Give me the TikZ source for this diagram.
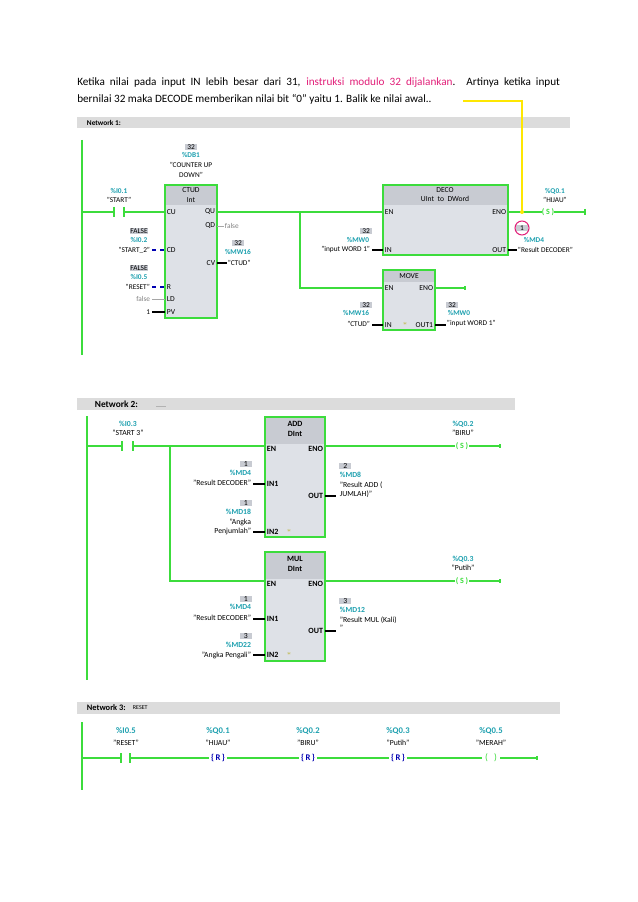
\documentclass[tikz,border=0pt]{standalone}
\usepackage{fontspec}
\setmainfont{Carlito}
\begin{document}
\definecolor{wg}{RGB}{60,220,60}
\definecolor{tl}{RGB}{30,160,175}
\definecolor{bx}{RGB}{222,225,231}
\definecolor{hd}{RGB}{200,203,210}
\definecolor{bar}{RGB}{220,220,220}
\definecolor{pk}{RGB}{225,30,120}
\begin{tikzpicture}[x=0.75pt,y=-0.75pt,
  wire/.style={draw=wg,line width=1.3pt},
  blk/.style={draw=black,line width=0.9pt},
  lb/.style={inner sep=0.5pt,font=\fontsize{5.5}{6}\selectfont},
  tlb/.style={lb,text=tl,font=\fontsize{5.5}{6}\selectfont\bfseries},
  gb/.style={lb,fill=hd,minimum width=9pt,font=\fontsize{5.5}{6}\selectfont},
  pin/.style={lb,font=\fontsize{5.7}{6}\selectfont},
  coil/.style={inner sep=0.5pt,text=wg,font=\fontsize{6}{6}\selectfont\bfseries},
  rcoil/.style={inner sep=0.5pt,text=blue!70!black,font=\fontsize{6.5}{6}\selectfont\bfseries},
  hdr/.style={fill=bar,draw=none}]
\useasboundingbox (0,0) rectangle (638,902);
% text
\node[anchor=north west,inner sep=0,text width=362pt,align=justify,font=\fontsize{8.4}{12.8}\selectfont] (txt) at (77,77) {Ketika nilai pada input IN lebih besar dari 31, \textcolor{pk}{instruksi modulo 32 dijalankan}. Artinya ketika input\linebreak bernilai 32 maka DECODE memberikan nilai bit “0” yaitu 1. Balik ke nilai awal..};
% ===== Network 1
\fill[bar] (77,117) rectangle (570,128);
\node[anchor=west,lb,font=\fontsize{5.5}{6}\selectfont\bfseries] (n1) at (86,122.5) {Network 1:};
\draw[wire] (82,140) -- (82,355);
% contact
\coordinate (c1a) at (114,212); \coordinate (c1b) at (124,212);
\draw[wire] (82,212) -- (c1a); \draw[wire] (c1b) -- (165,212);
\draw[wg,line width=1.3pt] (114,207) -- (114,217) (124,207) -- (124,217);
\node[tlb] (l1) at (119,191) {\%I0.1}; \node[lb] (l2) at (119,200) {"START"};
% CTUD
\fill[bx] (165,185) rectangle (217,318); \fill[hd] (165,185) rectangle (217,205);
\draw[wg,line width=1.3pt] (165,185) rectangle (217,318);
\node[pin] (ct) at (191,190) {CTUD}; \node[pin] (ci) at (191,200) {Int};
\node[gb] (d32) at (191,147) {32}; \node[tlb] at (191,155) {\%DB1};
\node[lb] at (191,165) {"COUNTER UP}; \node[lb] at (191,175) {DOWN"};
\foreach \n/\y in {CU/212,CD/250,R/287,LD/299,PV/312}{\node[pin,anchor=west] at (166,\y) {\n};}
\foreach \n/\y in {QU/212,QD/226,CV/263}{\node[pin,anchor=east] at (216,\y) {\n};}
\draw[gray!70,line width=0.6pt] (217,226) -- (224,226);
\node[lb,anchor=west,text=gray] at (224,226) {false};
\node[gb] at (238,243) {32}; \node[tlb] at (238,252) {\%MW16};
\draw[blk] (217,263) -- (227,263); \node[lb,anchor=west] at (227,263) {"CTUD"};
\node[gb] at (139,231) {FALSE}; \node[tlb] at (139,240) {\%I0.2};
\node[lb,anchor=east] at (151,250) {"START\_2"};
\draw[blue!70!black,dashed,line width=1pt] (152,250) -- (165,250);
\node[gb] at (139,268) {FALSE}; \node[tlb] at (139,277) {\%I0.5};
\node[lb,anchor=east] at (151,287) {"RESET"};
\draw[blue!70!black,dashed,line width=1pt] (152,287) -- (165,287);
\node[lb,anchor=east,text=gray] at (151,299) {false}; \draw[gray!70,line width=0.6pt] (152,299) -- (165,299);
\node[lb,anchor=east] at (151,312) {1}; \draw[blk] (152,312) -- (165,312);
% wires
\draw[wire] (217,212) -- (383,212);
\draw[wire] (300,212) -- (300,288) -- (383,288);
% DECO
\fill[bx] (383,185) rectangle (508,255); \fill[hd] (383,185) rectangle (508,205);
\draw[wg,line width=1.3pt] (383,185) rectangle (508,255);
\node[pin] at (445,190) {DECO}; \node[pin] at (445,199) {UInt\ \ to\ \ DWord};
\node[pin,anchor=west] at (384,212) {EN}; \node[pin,anchor=west] at (384,250) {IN};
\node[pin,anchor=east] at (507,212) {ENO}; \node[pin,anchor=east] at (507,250) {OUT};
\node[gb] at (366,231) {32}; \node[tlb,anchor=east] at (370,240) {\%MW0};
\node[lb,anchor=east] at (371,250) {"input WORD 1"}; \draw[blk] (372,250) -- (383,250);
% output coil
\draw[wire] (508,212) -- (542,212); \draw[wire] (554,212) -- (585,212);
\draw[wg,line width=1.3pt] (585,209) -- (585,215);
\node[coil] (q1) at (548,212) {( S )};
\node[tlb] at (555,191) {\%Q0.1}; \node[lb] at (555,200) {"HIJAU"};
\node[gb] at (522,228) {1};
\draw[pk,line width=0.8pt] (522,228) circle (7);
\node[tlb,anchor=west] at (523,240) {\%MD4};
\draw[blk] (508,250) -- (517,250); \node[lb,anchor=west] at (517,250) {"Result DECODER"};
% yellow pointer
\draw[yellow!90!orange,line width=1pt] (463,101) -- (522,101) -- (522,212);
\fill[yellow!90!orange] (522,212) circle (2);
% MOVE
\fill[bx] (383,270) rectangle (435,330); \fill[hd] (383,270) rectangle (435,282);
\draw[wg,line width=1.3pt] (383,270) rectangle (435,330);
\node[pin] at (409,276) {MOVE};
\node[pin,anchor=west] at (384,288) {EN}; \node[pin,anchor=east] at (434,288) {ENO};
\node[pin,anchor=west] at (384,325) {IN}; \node[pin,anchor=east] at (434,325) {OUT1};
\node[text=yellow!70!black,font=\fontsize{5}{5}\selectfont] at (405,324) {$\ast$};
\draw[wire] (435,288) -- (465,288); \draw[wg,line width=1pt] (465,286) -- (465,290);
\node[gb] at (366,305) {32}; \node[tlb,anchor=east] at (370,313) {\%MW16};
\node[lb,anchor=east] at (371,324) {"CTUD"}; \draw[blk] (372,325) -- (383,325);
\node[gb] at (452,305) {32}; \node[tlb,anchor=west] at (447,313) {\%MW0};
\draw[blk] (435,325) -- (446,325); \node[lb,anchor=west] at (446,324) {"input WORD 1"};
% ===== Network 2
\fill[bar] (77,398) rectangle (515,410);
\node[anchor=west,lb,font=\fontsize{7}{8}\selectfont\bfseries] at (94,404) {Network 2:};
\draw[gray!60,line width=0.4pt] (156,406) -- (166,406);
\draw[wire] (87,416) -- (87,680);
\draw[wire] (87,446) -- (122,446); \draw[wire] (133,446) -- (265,446);
\draw[wg,line width=1.3pt] (122,441) -- (122,451) (133,441) -- (133,451);
\node[tlb,font=\fontsize{5.8}{6}\selectfont\bfseries] at (128,424) {\%I0.3}; \node[lb,font=\fontsize{5.8}{6}\selectfont] at (128,433) {"START 3"};
\draw[wire] (170,446) -- (170,581) -- (265,581);
\foreach \nm/\yt/\yb/\t/\ta/\yen/\yia/\yout/\yib in {ADD/417/537/DInt/ADD/446/484/496/532, MUL/552/661/DInt/MUL/581/619/631/655}{
  \fill[bx] (265,\yt) rectangle (325,\yb); \fill[hd] (265,\yt) rectangle (325,\yt+27);
  \draw[wg,line width=1.3pt] (265,\yt) rectangle (325,\yb);
  \node[pin,font=\fontsize{6}{6}\selectfont\bfseries] at (295,\yt+7) {\ta};
  \node[pin,font=\fontsize{6}{6}\selectfont\bfseries] at (295,\yt+17) {\t};
  \node[pin,font=\fontsize{6}{6}\selectfont\bfseries,anchor=west] at (266,\yen+3) {EN};
  \node[pin,font=\fontsize{6}{6}\selectfont\bfseries,anchor=east] at (324,\yen+3) {ENO};
  \node[pin,font=\fontsize{6}{6}\selectfont\bfseries,anchor=west] at (266,\yia) {IN1};
  \node[pin,font=\fontsize{6}{6}\selectfont\bfseries,anchor=west] at (266,\yib) {IN2};
  \node[text=yellow!70!black,font=\fontsize{5}{5}\selectfont] at (289,\yib-1) {$\ast$};
  \node[pin,font=\fontsize{6}{6}\selectfont\bfseries,anchor=east] at (324,\yout) {OUT};
  \draw[blk] (253,\yia) -- (265,\yia); \draw[blk] (253,\yib) -- (265,\yib);
  \draw[blk] (325,\yout) -- (336,\yout);
}
\tikzset{l2/.style={lb,font=\fontsize{5.8}{6}\selectfont},t2/.style={tlb,font=\fontsize{5.8}{6}\selectfont\bfseries},g2/.style={gb,font=\fontsize{5.8}{6}\selectfont}}
\node[g2,anchor=east] at (252,464) {1}; \node[t2,anchor=east] at (252,473) {\%MD4};
\node[l2,anchor=east] at (252,483) {"Result DECODER"};
\node[g2,anchor=east] at (252,503) {1}; \node[t2,anchor=east] at (252,512) {\%MD18};
\node[l2,anchor=east] at (252,522) {"Angka}; \node[l2,anchor=east] at (252,531) {Penjumlah"};
\node[g2,anchor=west] at (339,466) {2}; \node[t2,anchor=west] at (339,475) {\%MD8};
\node[l2,anchor=west] at (339,485) {"Result ADD (}; \node[l2,anchor=west] at (339,494) {JUMLAH)"};
\node[g2,anchor=east] at (252,599) {1}; \node[t2,anchor=east] at (252,607) {\%MD4};
\node[l2,anchor=east] at (252,618) {"Result DECODER"};
\node[g2,anchor=east] at (252,636) {3}; \node[t2,anchor=east] at (252,645) {\%MD22};
\node[l2,anchor=east] at (252,655) {"Angka Pengali"};
\node[g2,anchor=west] at (339,601) {3}; \node[t2,anchor=west] at (339,610) {\%MD12};
\node[l2,anchor=west] at (339,620) {"Result MUL (Kali)}; \node[l2,anchor=west] at (339,628) {"};
% coils net 2
\foreach \y/\a/\b in {446/\%Q0.2/"BIRU", 581/\%Q0.3/"Putih"}{
  \draw[wire] (325,\y) -- (455,\y); \draw[wire] (469,\y) -- (500,\y);
  \draw[wg,line width=1pt] (500,\y-2) -- (500,\y+2);
  \node[coil] at (462,\y) {( S )};
  \node[t2] at (463,\y-22) {\a}; \node[l2] at (463,\y-13) {\b};
}
% ===== Network 3
\fill[bar] (77,702) rectangle (560,714);
\node[anchor=west,lb,font=\fontsize{6.3}{7}\selectfont\bfseries] at (86,708) {Network 3:};
\node[anchor=west,lb,font=\fontsize{4.5}{5}\selectfont] at (132,708) {RESET};
\draw[wire] (82,722) -- (82,790);
\draw[wire] (82,758) -- (121,758); \draw[wire] (130,758) -- (537,758);
\draw[wg,line width=1.3pt] (121,753) -- (121,763) (130,753) -- (130,763) (537,756) -- (537,760);
\foreach \x in {218,308,398}{\fill[white] (\x-9,752) rectangle (\x+9,764); \node[rcoil] at (\x,758) {\{\,R\,\}};}
\fill[white] (482,752) rectangle (500,764); \node[coil,font=\fontsize{7}{7}\selectfont] at (491,758) {(\ \ \ )};
\tikzset{t3/.style={tlb,font=\fontsize{6.5}{7}\selectfont\bfseries},l3/.style={lb,font=\fontsize{5.8}{6}\selectfont}}
\node[t3] at (126,731) {\%I0.5}; \node[l3] at (126,743) {"RESET"};
\node[t3] at (218,731) {\%Q0.1}; \node[l3] at (218,743) {"HIJAU"};
\node[t3] at (308,731) {\%Q0.2}; \node[l3] at (308,743) {"BIRU"};
\node[t3] at (398,731) {\%Q0.3}; \node[l3] at (398,743) {"Putih"};
\node[t3] at (491,731) {\%Q0.5}; \node[l3] at (491,743) {"MERAH"};
\end{tikzpicture}
\end{document}
